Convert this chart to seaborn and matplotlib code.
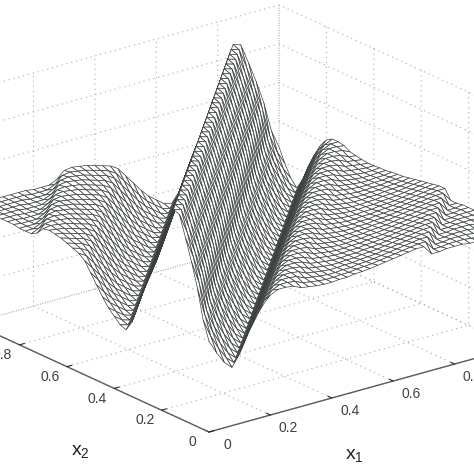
import numpy as np
import matplotlib
matplotlib.use("Agg")
import matplotlib.pyplot as plt
import seaborn as sns
from mpl_toolkits.mplot3d import proj3d

ridge_left = [.50,.50,.505,.505,.505,.505,.505,.505,.50,.50,.50,.515,.545,.55,.545,.54,.53,.52,.51,.49,
              .45,.41,.37,.335,.31,.285,.275,.32,.40,.48,.55,.62,.70,.80,.885,.875,.79,.70,.60,.47]
ridge_mid = [.39]
ridge_right = [.33,.28,.25,.30,.37,.43,.48,.515,.53,.53,.525,.51,.505,.50,.497,.497,.50,.50,.505,.507,
               .51,.515,.52,.525,.53,.535,.54,.54,.50,.50,.505,.505,.505,.50,.50,.50,.50,.50,.50,.50]
ticks_xy = [0, .2, .4, .6, .8, 1]
labelled_ticks = [0, .2, .4, .6, .8]
tick_labels_xy = ['0', '0.2', '0.4', '0.6', '0.8']
ticks_z = [0, 1/6, 2/6, 3/6, 4/6, 5/6, 1]
x1_label = 'x$_1$'
x2_label = 'x$_2$'

ridge = np.array(ridge_left + ridge_mid + ridge_right)
n = (len(ridge) + 1) // 2
grid = np.linspace(0, 1, n)
X1, X2 = np.meshgrid(grid, grid, indexing='ij')
I, J = np.meshgrid(np.arange(n), np.arange(n), indexing='ij')
Z = ridge[I - J + n - 1]

sns.set_theme(style='white')
plt.rcParams['font.family'] = ['Liberation Sans', 'DejaVu Sans']
plt.rcParams['mathtext.default'] = 'regular'

fig = plt.figure(figsize=(4.74, 4.74), dpi=100, facecolor='white')
ax = fig.add_axes([0, 0, 1, 1], projection='3d', proj_type='ortho')
ax.view_init(elev=20.9, azim=-127.8)
ax.set_box_aspect((388.6, 386.6, 249.5))
ax.set_xlim(0, 1, view_margin=0)
ax.set_ylim(0, 1, view_margin=0)
ax.set_zlim(0, 1, view_margin=0)

ax.plot_surface(X1, X2, Z, rstride=1, cstride=1, color='white', edgecolor='#3a3f3e',
                linewidth=0.5, shade=False, antialiased=True)

ink = '#3c4048'
for axis in (ax.xaxis, ax.yaxis, ax.zaxis):
    axis.set_pane_color((1, 1, 1, 0))
    axis.pane.set_edgecolor('none')
    axis.line.set_color('#5a5a5a')
    axis.line.set_linewidth(1.0)
    axis._axinfo['grid'].update(color='#a8a8a8', linestyle=(0, (1, 3.5)), linewidth=0.8)
    axis._axinfo['tick'].update(inward_factor=0.0, outward_factor=0.2, linewidth={True: .8, False: .5})
    axis._axinfo['tick']['color'] = '#5a5a5a'

ax.set_xticks(ticks_xy, [''] * len(ticks_xy))
ax.set_yticks(ticks_xy, [''] * len(ticks_xy))
ax.set_zticks(ticks_z, [''] * len(ticks_z))

# Tick labels sit a fixed data offset from their ticks, as in the reference
for value, label in zip(labelled_ticks, tick_labels_xy):
    ax.text(value, -0.076, -0.02, label, fontsize=10, color=ink, ha='center', va='center', zorder=10)
    ax.text(-0.055, value, -0.024, label, fontsize=10, color=ink, ha='center', va='center', zorder=10)

# Place the box so its floor corners land where they sit in the reference
fig.canvas.draw()
def frac(x, y, z):
    px, py, _ = proj3d.proj_transform(x, y, z, ax.get_proj())
    return ax.transAxes.inverted().transform(ax.transData.transform((px, py)))
f0 = frac(0, 0, 0)
f1 = frac(1, 0, 0)
want0 = np.array([209, 474 - 432.0])
want1 = np.array([516, 474 - 347.0])
w = (want1[0] - want0[0]) / (f1[0] - f0[0])
left = want0[0] - w * f0[0]
bottom = want0[1] - w * f0[1]
ax.set_position([left / 474, bottom / 474, w / 474, w / 474])

fig.text(354 / 474, 1 - 455 / 474, x1_label, fontsize=14, color='#222222', ha='center', va='center')
fig.text(80 / 474, 1 - 452 / 474, x2_label, fontsize=14, color='#222222', ha='center', va='center')

fig.savefig('out.png', dpi=100, facecolor='white')
